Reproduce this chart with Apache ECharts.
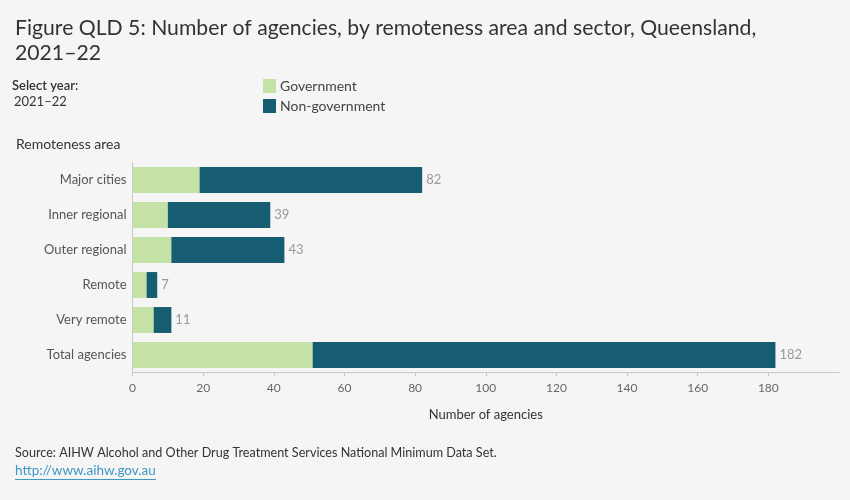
<!DOCTYPE html>
<html>
<head>
<meta charset="utf-8">
<script src="https://cdn.jsdelivr.net/npm/echarts@6/dist/echarts.min.js"></script>
<style>
html,body{margin:0;padding:0;background:#f5f5f5;}
#chart{width:850px;height:500px;}
</style>
</head>
<body>
<div id="chart"></div>
<script>
const categories = ['Major cities', 'Inner regional', 'Outer regional', 'Remote', 'Very remote', 'Total agencies'];
const government = [19, 10, 11, 4, 6, 51];
const nonGovernment = [63, 29, 32, 3, 5, 131];
const totals = [82, 39, 43, 7, 11, 182];
const xTicks = [0, 20, 40, 60, 80, 100, 120, 140, 160, 180];

const FONT = 'Lato, "Open Sans", sans-serif';
const linkText = 'http://www.aihw.gov.au';
const linkFont = '13.5px ' + FONT;

const chart = echarts.init(document.getElementById('chart'));
const linkWidth = Math.round(echarts.format.getTextRect
  ? echarts.format.getTextRect(linkText, linkFont).width
  : 128);
chart.setOption({
  backgroundColor: '#f5f5f5',
  animation: false,
  textStyle: { fontFamily: FONT },
  title: {
    text: 'Figure QLD 5: Number of agencies, by remoteness area and sector, Queensland,\n2021–22',
    left: 10, top: 11, padding: 5,
    textStyle: { fontFamily: FONT, fontSize: 21.2, fontWeight: 'normal', color: '#333', lineHeight: 25 }
  },
  legend: {
    data: ['Government', 'Non-government'],
    orient: 'vertical',
    left: 258, top: 74,
    itemWidth: 13, itemHeight: 14, itemGap: 6,
    icon: 'rect',
    textStyle: { fontFamily: FONT, fontSize: 14, color: '#444', padding: [0, 0, 0, -1] }
  },
  graphic: [
    { type: 'text', left: 12, top: 79, style: { text: 'Select year:', font: '600 13px ' + FONT, fill: '#333' } },
    { type: 'text', left: 14, top: 95, style: { text: '2021–22', font: '13px ' + FONT, fill: '#333' } },
    { type: 'text', left: 16, top: 137, style: { text: 'Remoteness area', font: '14px ' + FONT, fill: '#333' } },
    { type: 'text', left: 15, top: 446, style: { text: 'Source: AIHW Alcohol and Other Drug Treatment Services National Minimum Data Set.', font: '12.6px ' + FONT, fill: '#333' } },
    { type: 'text', left: 15, top: 464, style: { text: linkText, font: linkFont, fill: '#3f97c4' } },
    { type: 'rect', left: 15, top: 479, shape: { width: linkWidth, height: 1 }, style: { fill: '#3f97c4' } }
  ],
  grid: { left: 132.5, right: 11, top: 162.5, bottom: 127.5, containLabel: false },
  xAxis: {
    type: 'value', min: 0, max: 200, interval: 20,
    name: 'Number of agencies', nameLocation: 'middle', nameGap: 36,
    nameTextStyle: { fontFamily: FONT, fontSize: 13, color: '#333' },
    axisLine: { show: true, lineStyle: { color: '#c8c8c8', width: 1 } },
    axisTick: { show: true, length: 4, lineStyle: { color: '#c8c8c8' },
      customValues: xTicks },
    axisLabel: { fontFamily: FONT, fontSize: 12, color: '#666', margin: 10,
      customValues: xTicks },
    splitLine: { show: false }
  },
  yAxis: {
    type: 'category', data: categories, inverse: true,
    axisLine: { show: true, lineStyle: { color: '#c8c8c8' } },
    axisTick: { show: false },
    axisLabel: { fontFamily: FONT, fontSize: 13, color: '#555', margin: 6 }
  },
  series: [
    {
      name: 'Government', type: 'bar', stack: 'total', data: government,
      barCategoryGap: '26%',
      itemStyle: { color: '#c4e2a5' }
    },
    {
      name: 'Non-government', type: 'bar', stack: 'total', data: nonGovernment,
      itemStyle: { color: '#175d72' },
      label: {
        show: true, position: 'right', distance: 4,
        fontFamily: FONT, fontSize: 13, color: '#999',
        formatter: p => String(totals[p.dataIndex])
      }
    }
  ]
});
</script>
</body>
</html>
